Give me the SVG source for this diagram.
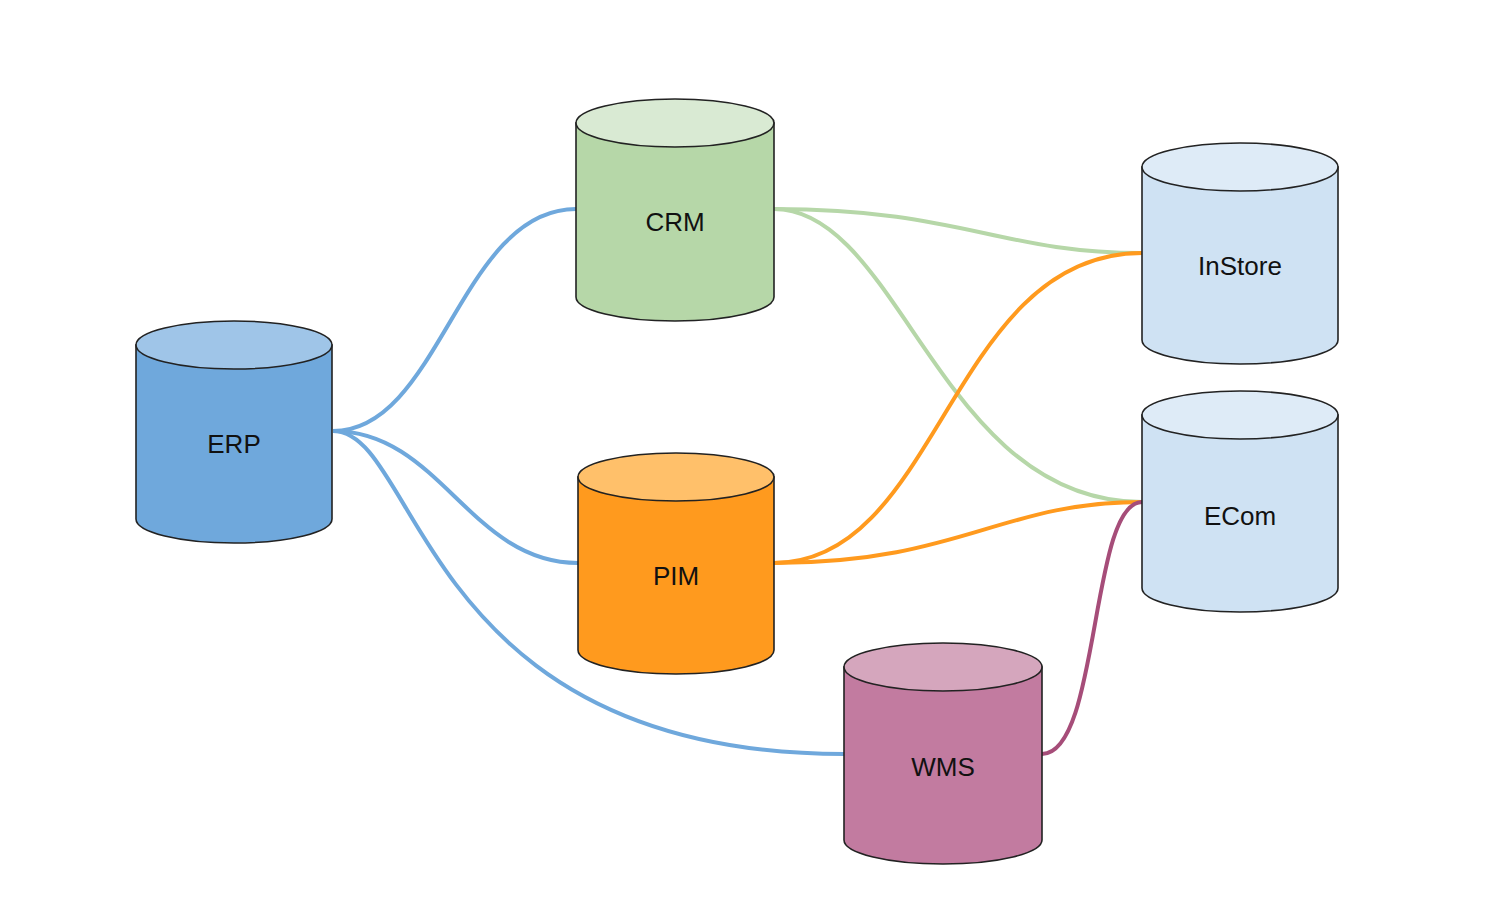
<svg xmlns="http://www.w3.org/2000/svg" width="1486" height="910" viewBox="0 0 1486 910">
<style>
.c{stroke:#222;stroke-width:1.6}
.l{fill:none;stroke-width:4}
text{font-family:"Liberation Sans",Arial,sans-serif;font-size:26px;fill:#111;text-anchor:middle}
</style>
<rect width="1486" height="910" fill="#fff"/>
<g id="connectors">
<path class="l" stroke="#6fa8dc" d="M333,431 C440,431 460,209 576,209"/>
<path class="l" stroke="#6fa8dc" d="M333,431 C440,431 470,563 578,563"/>
<path class="l" stroke="#6fa8dc" d="M333,431 C420,431 420,754 844,754"/>
<path class="l" stroke="#b6d7a8" d="M774,209 C960,209 1000,253 1142,253"/>
<path class="l" stroke="#b6d7a8" d="M774,209 C900,209 940,502 1142,502"/>
<path class="l" stroke="#ff9a1e" d="M774,563 C940,563 950,253 1142,253"/>
<path class="l" stroke="#ff9a1e" d="M774,563 C960,563 1000,502 1142,502"/>
<path class="l" stroke="#a64d79" d="M1042,754 C1100,754 1090,502 1142,502"/>
</g>
<g id="erp">
<path class="c" fill="#6fa8dc" d="M136,345 V519 A98,24 0 0 0 332,519 V345 Z"/>
<ellipse class="c" fill="#9fc5e8" cx="234" cy="345" rx="98" ry="24"/>
<text x="234" y="453">ERP</text>
</g>
<g id="crm">
<path class="c" fill="#b6d7a8" d="M576,123 V297 A99,24 0 0 0 774,297 V123 Z"/>
<ellipse class="c" fill="#d9ead3" cx="675" cy="123" rx="99" ry="24"/>
<text x="675" y="231">CRM</text>
</g>
<g id="pim">
<path class="c" fill="#ff9a1e" d="M578,477 V650 A98,24 0 0 0 774,650 V477 Z"/>
<ellipse class="c" fill="#ffc06a" cx="676" cy="477" rx="98" ry="24"/>
<text x="676" y="585">PIM</text>
</g>
<g id="wms">
<path class="c" fill="#c27ba0" d="M844,667 V840 A99,24 0 0 0 1042,840 V667 Z"/>
<ellipse class="c" fill="#d5a6bd" cx="943" cy="667" rx="99" ry="24"/>
<text x="943" y="776">WMS</text>
</g>
<g id="instore">
<path class="c" fill="#cfe2f3" d="M1142,167 V340 A98,24 0 0 0 1338,340 V167 Z"/>
<ellipse class="c" fill="#deebf7" cx="1240" cy="167" rx="98" ry="24"/>
<text x="1240" y="275">InStore</text>
</g>
<g id="ecom">
<path class="c" fill="#cfe2f3" d="M1142,415 V588 A98,24 0 0 0 1338,588 V415 Z"/>
<ellipse class="c" fill="#deebf7" cx="1240" cy="415" rx="98" ry="24"/>
<text x="1240" y="525">ECom</text>
</g>
</svg>
